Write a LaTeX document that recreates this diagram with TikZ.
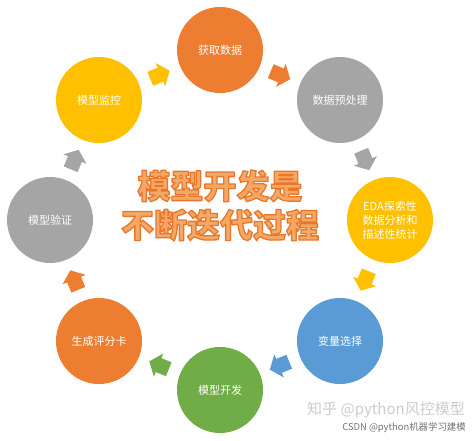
\documentclass[tikz,border=0pt]{standalone}
\usepackage{fontspec}
\newfontfamily\cjk{Noto Sans CJK SC}
\usetikzlibrary{calc}
\definecolor{corange}{HTML}{ED7D31}
\definecolor{cgray}{HTML}{A5A5A5}
\definecolor{cyellow}{HTML}{FFC000}
\definecolor{cblue}{HTML}{5B9BD5}
\definecolor{cgreen}{HTML}{70AD47}
\definecolor{ttlfill}{HTML}{F4A866}
\newcommand{\outlineon}{\special{pdf:literal direct 0.91 0.467 0.173 RG 1.3 w 1 j 2 Tr}}
\newcommand{\outlineoff}{\special{pdf:literal direct 0 Tr}}
\tikzset{
  circ/.style={circle, minimum size=86pt, inner sep=0pt, text=white,
    font=\cjk\fontsize{11}{14}\selectfont, align=center},
  blockarrow/.pic={\fill[#1] (-10,-7.5) -- (1,-7.5) -- (1,-12.5) -- (11,0) -- (1,12.5) -- (1,7.5) -- (-10,7.5) -- cycle;},
  ttl/.style={font=\cjk\bfseries\fontsize{33}{39}\selectfont, align=center, inner sep=0pt},
  link/.style={midway, sloped, allow upside down}
}
\begin{document}
\begin{tikzpicture}[x=1pt,y=-1pt]
\useasboundingbox[fill=white] (0,0) rectangle (474,440);
\node[circ, fill=corange] (n1) at (220,50) {获取数据};
\node[circ, fill=cgray] (n2) at (340,100) {数据预处理};
\node[circ, fill=cyellow] (n3) at (390,220) {EDA探索性\\数据分析和\\描述性统计};
\node[circ, fill=cblue] (n4) at (340,341) {变量选择};
\node[circ, fill=cgreen] (n5) at (220,390) {模型开发};
\node[circ, fill=corange] (n6) at (99,341) {生成评分卡};
\node[circ, fill=cgray] (n7) at (50,220) {模型验证};
\node[circ, fill=cyellow] (n8) at (99,100) {模型监控};
\path (n1) -- pic[link]{blockarrow=corange} (n2);
\path (n2) -- pic[link]{blockarrow=cgray} (n3);
\path (n3) -- pic[link]{blockarrow=cyellow} (n4);
\path (n4) -- pic[link]{blockarrow=cblue} (n5);
\path (n5) -- pic[link]{blockarrow=cgreen} (n6);
\path (n6) -- pic[link]{blockarrow=corange} (n7);
\path (n7) -- pic[link]{blockarrow=cgray} (n8);
\path (n8) -- pic[link]{blockarrow=cyellow} (n1);
\node[ttl, text=ttlfill] (title) at (220,205.5) {\outlineon 模型开发是\\\outlineon 不断迭代过程\outlineoff};
\node[font=\cjk\fontsize{15}{17}\selectfont, text=black!20, inner sep=0pt] (w1) at (386,410) {知乎 @python风控模型};
\node[font=\cjk\fontsize{9.4}{11}\selectfont, text=black!55, inner sep=0pt] (w2) at (404,428) {CSDN @python机器学习建模};
\end{tikzpicture}
\end{document}
